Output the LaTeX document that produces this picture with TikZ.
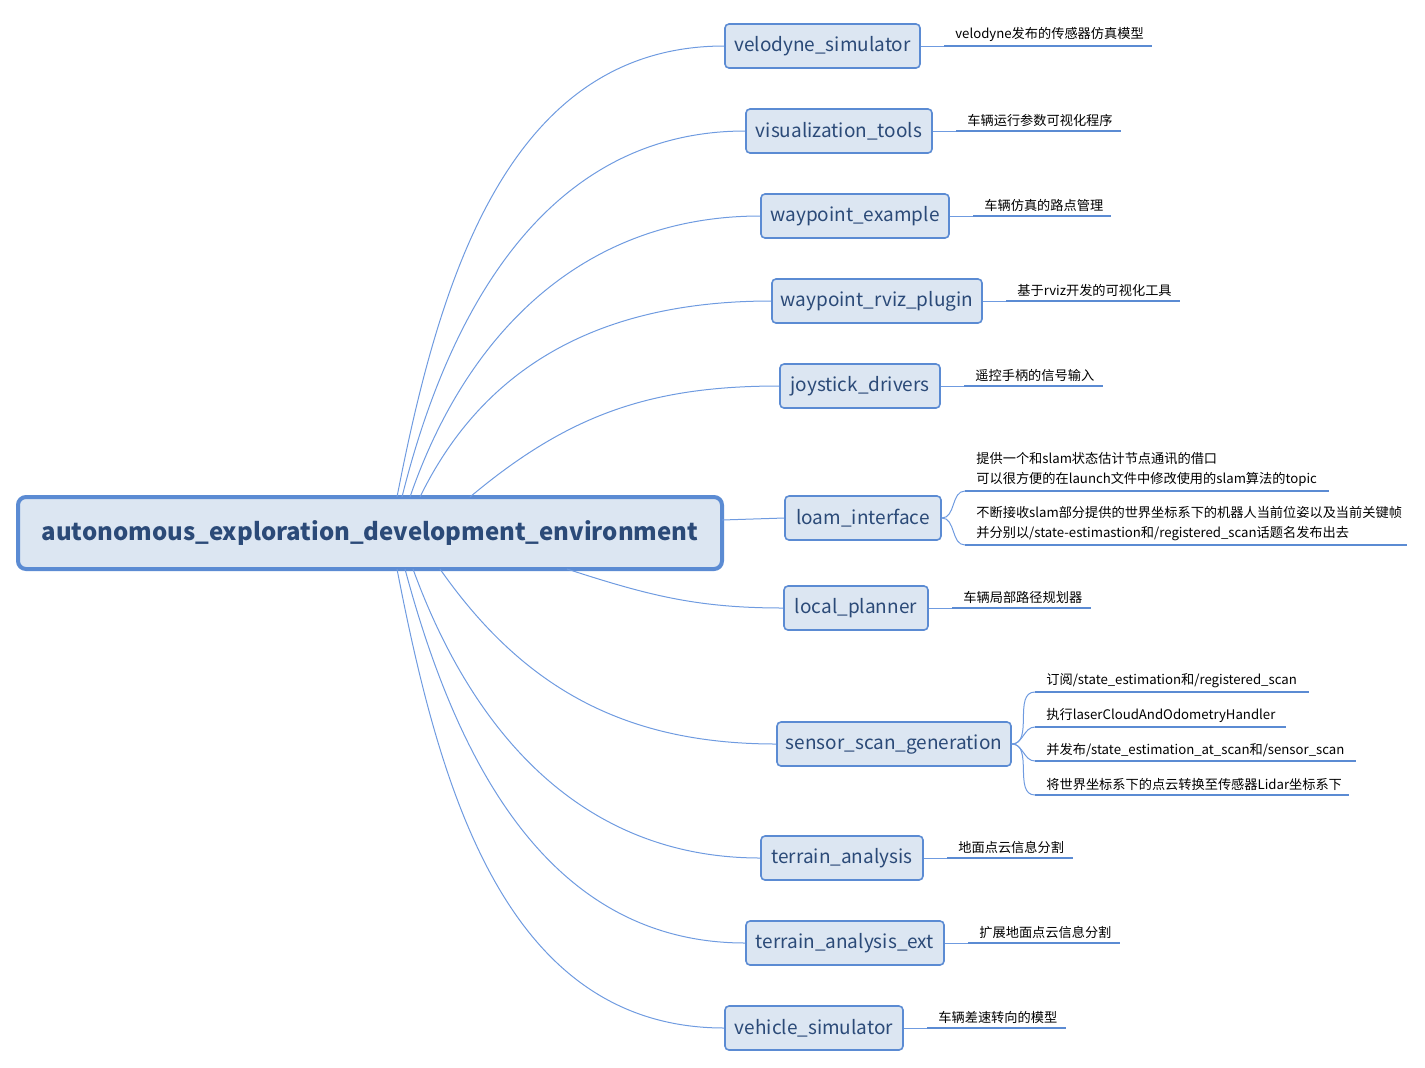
\documentclass[tikz,border=0pt]{standalone}
\usepackage{fontspec}
\setmainfont{Noto Sans CJK SC}
\begin{document}
\begin{tikzpicture}[x=0.5pt,y=-0.5pt]
\definecolor{bfill}{HTML}{DCE6F2}
\definecolor{bline}{HTML}{5B8BD3}
\definecolor{btext}{HTML}{2B4A78}
\definecolor{cline}{HTML}{6F9BE0}
\tikzset{
 child/.style={draw=bline,line width=0.8pt,fill=bfill,rounded corners=2pt,text=btext,font=\fontsize{9.5}{11}\selectfont,minimum height=22pt,inner sep=0pt},
 conn/.style={draw=cline,line width=0.5pt},
 uline/.style={draw=bline,line width=1.1pt},
 note/.style={anchor=south west,font=\fontsize{6.6}{10}\selectfont,inner sep=0pt,align=left}
}
\useasboundingbox (0,0) rectangle (1425,1067);
\node[draw=bline,line width=2pt,fill=bfill,rounded corners=4pt,minimum width=352pt,minimum height=36pt,text=btext,font=\fontsize{12}{14}\selectfont\bfseries,inner sep=0pt] (root) at (370,533) {autonomous\_exploration\_development\_environment};

\node[child,minimum width=97.5pt] (c1) at (822.5,46) {velodyne\_simulator};
\node[child,minimum width=93pt] (c2) at (839,131) {visualization\_tools};
\node[child,minimum width=94pt] (c3) at (855,216) {waypoint\_example};
\node[child,minimum width=105pt] (c4) at (877,301) {waypoint\_rviz\_plugin};
\node[child,minimum width=80pt] (c5) at (860,386) {joystick\_drivers};
\node[child,minimum width=78pt] (c6) at (863,518) {loam\_interface};
\node[child,minimum width=72pt] (c7) at (856,608) {local\_planner};
\node[child,minimum width=117pt] (c8) at (894,744) {sensor\_scan\_generation};
\node[child,minimum width=81pt] (c9) at (842,858) {terrain\_analysis};
\node[child,minimum width=99pt] (c10) at (845,943) {terrain\_analysis\_ext};
\node[child,minimum width=89pt] (c11) at (814,1028) {vehicle\_simulator};

\coordinate (s1) at (397,497); \coordinate (s2) at (402,497); \coordinate (s3) at (410,497);
\coordinate (s4) at (420,497); \coordinate (s5) at (470,497); \coordinate (s6) at (722,520);
\coordinate (s7) at (567,569); \coordinate (s8) at (440,569); \coordinate (s9) at (413,569);
\coordinate (s10) at (405,569); \coordinate (s11) at (397,569);
\draw[conn] (s1) to[out=79,in=180] (c1.west);
\draw[conn] (s2) to[out=76,in=180] (c2.west);
\draw[conn] (s3) to[out=71,in=180] (c3.west);
\draw[conn] (s4) to[out=64,in=180] (c4.west);
\draw[conn] (s5) to[out=40,in=180] (c5.west);
\draw[conn] (s6) -- (c6.west);
\draw[conn] (s7) to[out=-18,in=180] (c7.west);
\draw[conn] (s8) to[out=-55,in=180] (c8.west);
\draw[conn] (s9) to[out=-70,in=180] (c9.west);
\draw[conn] (s10) to[out=-75,in=180] (c10.west);
\draw[conn] (s11) to[out=-79,in=180] (c11.west);

% simple notes
\newcommand{\mynote}[6]{% node, ustart x, uend x, y, text x, text
 \coordinate (#1a) at (#2,#4); \coordinate (#1b) at (#3,#4);
 \draw[conn] (#1.east) -- (#1a);
 \draw[uline] (#1a) -- (#1b);
 \node[note] (#1t) at (#5,#4-4) {#6};}
\mynote{c1}{944}{1152}{46}{955}{velodyne发布的传感器仿真模型}
\mynote{c2}{956}{1121}{131}{967}{车辆运行参数可视化程序}
\mynote{c3}{973}{1111}{216}{984}{车辆仿真的路点管理}
\mynote{c4}{1006}{1180}{301}{1017}{基于rviz开发的可视化工具}
\mynote{c5}{964}{1103}{386}{975}{遥控手柄的信号输入}
\mynote{c7}{952}{1091}{608}{963}{车辆局部路径规划器}
\mynote{c9}{947}{1073}{858}{958}{地面点云信息分割}
\mynote{c10}{968}{1120}{943}{979}{扩展地面点云信息分割}
\mynote{c11}{927}{1066}{1028}{938}{车辆差速转向的模型}

% loam branches
\coordinate (l1) at (965,491); \coordinate (l1e) at (1329,491);
\coordinate (l2) at (965,545); \coordinate (l2e) at (1407,545);
\draw[conn] (c6.east) to[out=0,in=180] (l1);
\draw[conn] (c6.east) to[out=0,in=180] (l2);
\draw[uline] (l1) -- (l1e); \draw[uline] (l2) -- (l2e);
\node[note] (n61) at (976,487) {提供一个和slam状态估计节点通讯的借口\\可以很方便的在launch文件中修改使用的slam算法的topic};
\node[note] (n62) at (976,541) {不断接收slam部分提供的世界坐标系下的机器人当前位姿以及当前关键帧\\并分别以/state-estimastion和/registered\_scan话题名发布出去};

% sensor scan branches
\coordinate (k1) at (1035,692); \coordinate (k1e) at (1309,692);
\coordinate (k2) at (1035,727); \coordinate (k2e) at (1286,727);
\coordinate (k3) at (1035,761); \coordinate (k3e) at (1356,761);
\coordinate (k4) at (1035,795); \coordinate (k4e) at (1349,795);
\foreach \k in {k1,k2,k3,k4}{\draw[conn] (c8.east) to[out=0,in=180] (\k);}
\draw[uline] (k1) -- (k1e); \draw[uline] (k2) -- (k2e);
\draw[uline] (k3) -- (k3e); \draw[uline] (k4) -- (k4e);
\node[note] (n81) at (1046,688) {订阅/state\_estimation和/registered\_scan};
\node[note] (n82) at (1046,723) {执行laserCloudAndOdometryHandler};
\node[note] (n83) at (1046,757) {并发布/state\_estimation\_at\_scan和/sensor\_scan};
\node[note] (n84) at (1046,791) {将世界坐标系下的点云转换至传感器Lidar坐标系下};
\end{tikzpicture}
\end{document}
